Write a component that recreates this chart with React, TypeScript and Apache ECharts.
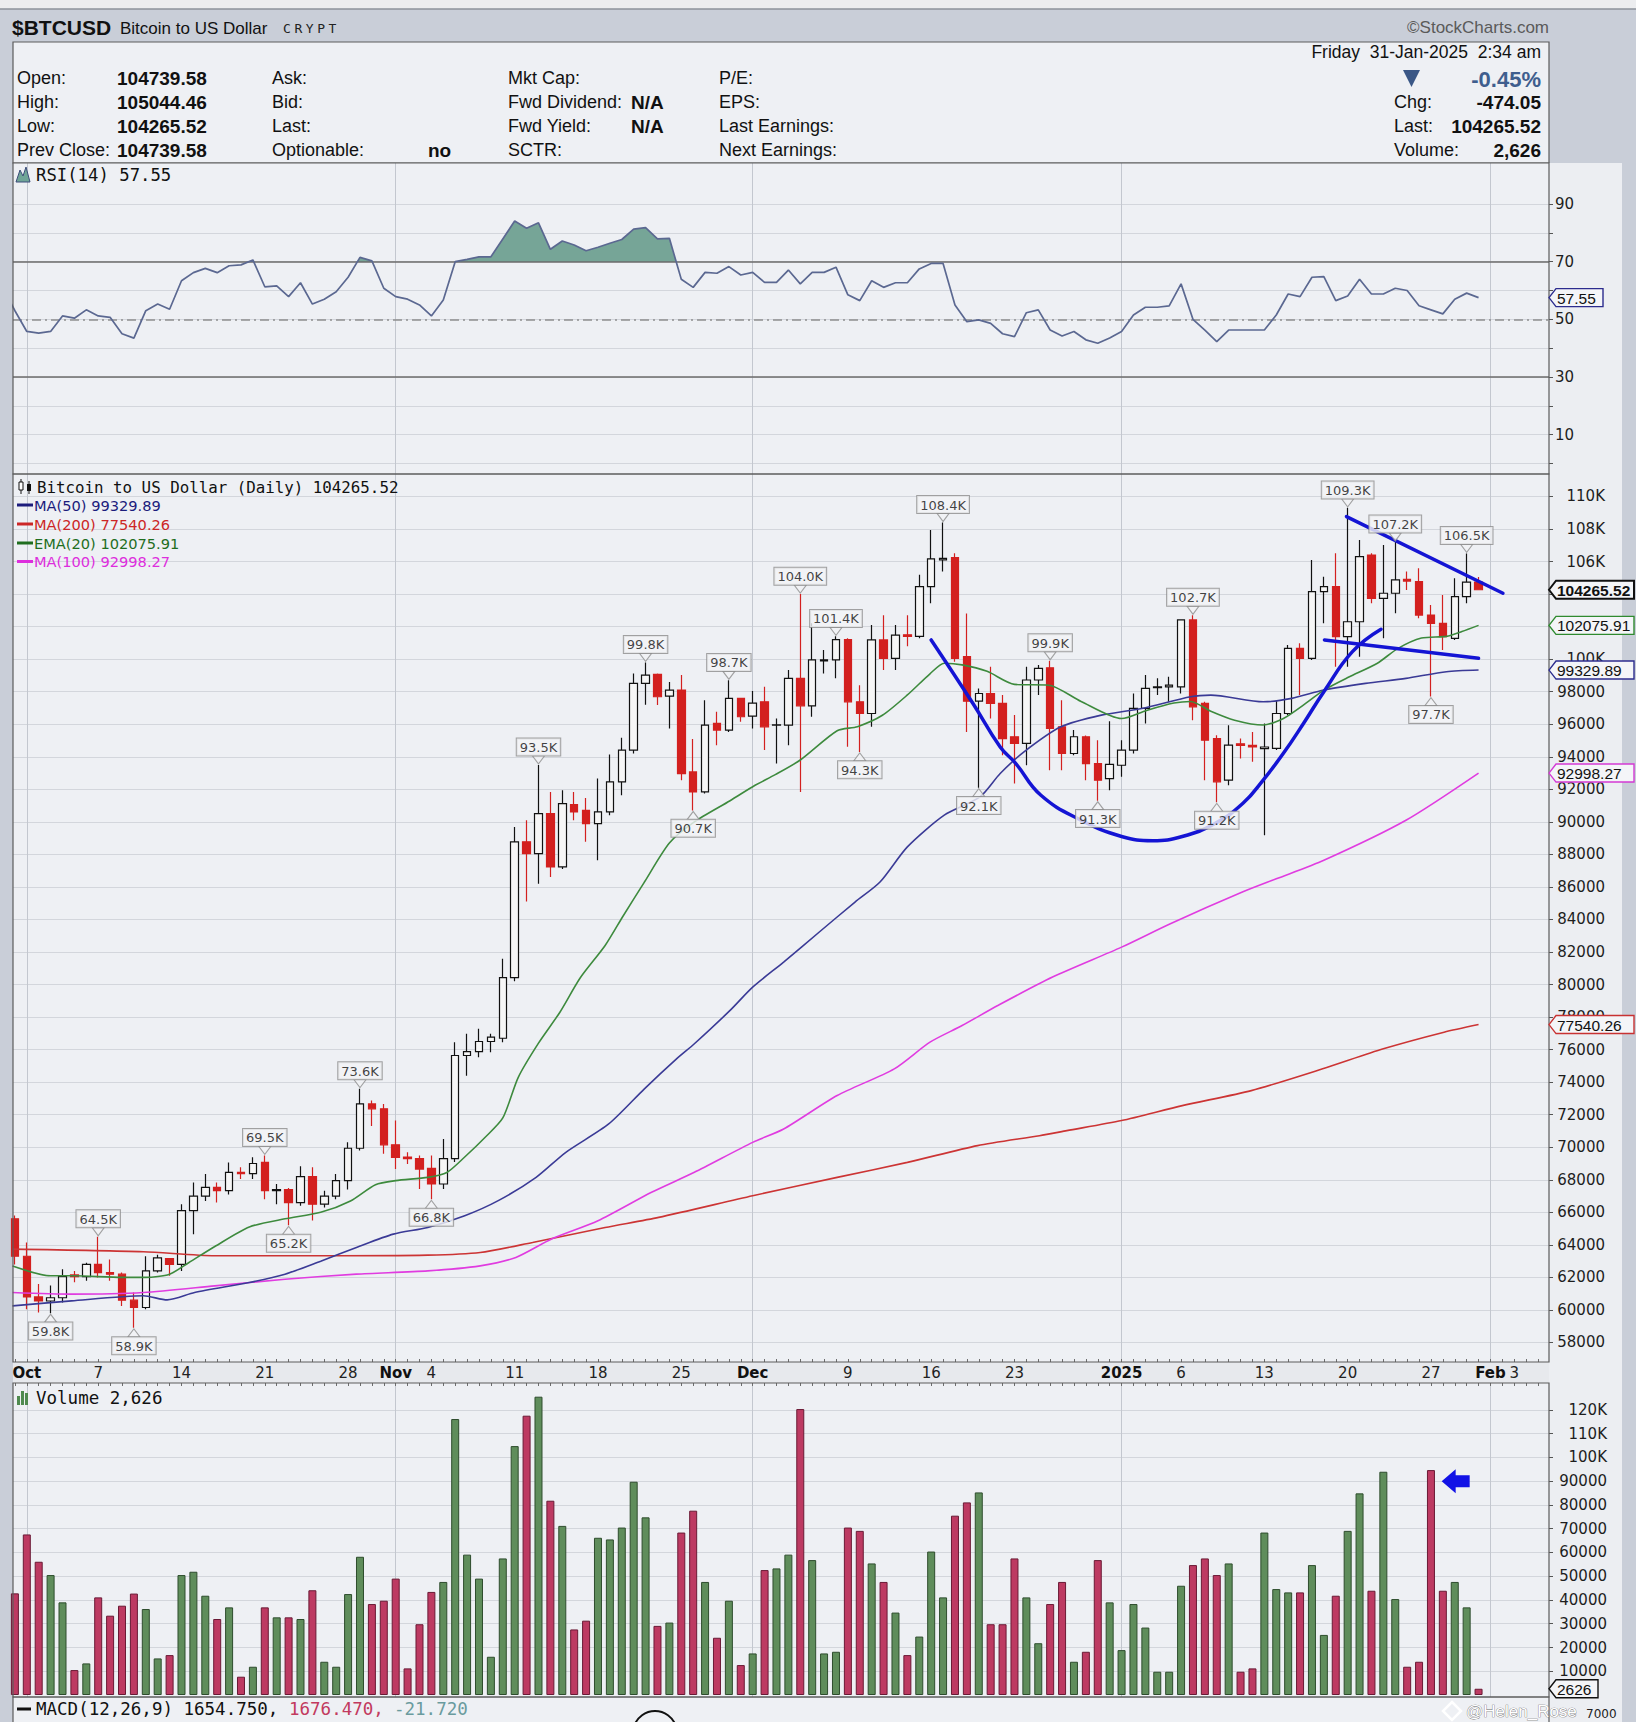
import React, { useEffect, useRef } from 'react';
import * as echarts from 'echarts';

// ---------------- DATA (day index: 0 = 1 Oct 2024) ----------------
const FIRST_DAY = -1; // first candle / volume bar = 30 Sep 2024

// [open, close, low, high]
const ohlc: number[][] = [
  [65600, 63300, 62800, 65800],
  [63300, 60800, 60050, 64150],
  [60800, 60550, 59850, 61600],
  [60550, 60750, 59800, 61500],
  [60750, 62050, 60460, 62500],
  [62150, 62050, 61700, 62400],
  [62050, 62800, 61800, 62900],
  [62800, 62300, 62000, 64500],
  [62300, 62200, 61800, 63100],
  [62200, 60600, 60250, 62300],
  [60600, 60150, 58900, 61070],
  [60150, 62400, 60050, 63300],
  [62400, 63200, 62300, 63400],
  [63150, 62800, 62100, 63200],
  [62800, 66100, 62400, 66500],
  [66100, 67000, 64660, 67840],
  [67000, 67540, 66700, 68350],
  [67540, 67330, 66600, 67840],
  [67330, 68460, 67100, 69070],
  [68460, 68380, 68050, 68770],
  [68380, 69000, 68050, 69380],
  [69070, 67330, 66800, 69500],
  [67330, 67400, 66500, 67740],
  [67400, 66600, 65200, 67500],
  [66600, 68200, 66400, 68830],
  [68200, 66500, 65500, 68770],
  [66500, 67000, 66300, 67330],
  [67000, 67950, 66800, 68350],
  [67950, 69940, 67400, 70300],
  [69940, 72660, 69800, 73600],
  [72660, 72360, 71300, 72870],
  [72360, 70150, 69600, 72660],
  [70150, 69380, 68660, 71640],
  [69400, 69300, 68970, 69690],
  [69300, 68660, 67430, 69500],
  [68700, 67740, 66800, 69500],
  [67740, 69300, 67430, 70500],
  [69300, 75640, 69100, 76460],
  [75640, 75880, 74400, 76970],
  [75880, 76500, 75530, 77280],
  [76500, 76770, 75840, 76970],
  [76700, 80420, 76460, 81590],
  [80420, 88770, 80200, 89690],
  [88770, 88050, 85100, 90100],
  [88050, 90510, 86200, 93500],
  [90510, 87230, 86610, 91840],
  [87230, 91120, 87100, 91950],
  [91060, 90610, 90100, 91840],
  [90710, 89890, 88770, 91470],
  [89890, 90610, 87640, 92660],
  [90610, 92460, 90410, 94140],
  [92460, 94410, 91640, 95170],
  [94410, 98510, 94200, 99120],
  [98510, 99020, 97200, 99800],
  [99060, 97690, 97180, 99120],
  [97730, 98100, 95740, 98600],
  [98100, 92970, 92560, 99020],
  [93070, 91840, 90700, 95100],
  [91840, 95940, 91740, 97480],
  [96050, 95640, 94710, 96760],
  [95640, 97590, 95530, 98700],
  [97590, 96460, 96150, 97590],
  [96500, 97300, 95740, 98040],
  [97380, 95840, 94410, 98300],
  [95940, 95960, 93580, 96350],
  [95940, 98820, 94710, 99330],
  [98820, 97130, 91840, 104000],
  [97130, 99950, 96460, 102200],
  [99900, 99950, 99120, 100560],
  [99950, 101200, 98820, 101400],
  [101200, 97380, 94610, 101280],
  [97380, 96660, 94300, 98400],
  [96660, 101180, 95840, 102100],
  [101180, 100050, 99330, 102700],
  [100050, 101480, 99330, 102100],
  [101500, 101400, 100800, 102700],
  [101400, 104460, 101280, 105180],
  [104460, 106160, 103430, 107940],
  [106100, 106200, 105380, 108400],
  [106240, 100050, 99840, 106510],
  [100150, 97420, 95530, 102800],
  [97420, 97890, 92100, 98200],
  [97890, 97280, 96350, 99540],
  [97280, 95120, 94100, 97790],
  [95230, 94820, 92350, 96560],
  [94820, 98720, 93480, 99540],
  [98720, 99430, 97790, 99640],
  [99470, 95740, 93170, 99900],
  [95840, 94200, 93170, 97480],
  [94200, 95230, 94100, 95640],
  [95230, 93580, 92560, 95300],
  [93580, 92560, 91300, 95020],
  [92660, 93530, 91940, 96190],
  [93480, 94410, 92770, 95020],
  [94410, 96970, 94200, 97890],
  [96970, 98200, 96050, 99020],
  [98250, 98300, 97790, 98820],
  [98300, 98400, 97380, 98920],
  [98300, 102410, 97890, 102450],
  [102410, 97070, 96250, 102700],
  [97280, 95020, 92560, 97380],
  [95120, 92460, 91200, 95330],
  [92560, 94710, 92250, 95940],
  [94800, 94700, 93890, 95120],
  [94700, 94600, 93690, 95530],
  [94500, 94600, 89180, 96050],
  [94510, 96660, 94410, 97480],
  [96660, 100660, 96560, 100870],
  [100660, 100050, 97790, 100970],
  [100050, 104150, 99950, 106100],
  [104150, 104460, 102200, 105070],
  [104460, 101380, 99540, 106510],
  [101380, 102300, 99540, 109300],
  [102300, 106300, 100150, 107330],
  [106400, 103740, 103430, 106510],
  [103740, 104050, 101280, 107020],
  [104050, 104870, 102820, 107200],
  [104900, 104800, 104250, 105380],
  [104770, 102710, 102510, 105590],
  [102710, 102200, 97700, 103330],
  [102200, 101380, 100560, 103940],
  [101280, 103840, 101180, 104970],
  [103840, 104740, 103430, 106500],
  [104739.58, 104265.52, 104265.52, 105044.46],
];

const volumes: number[] = [
  42800, 67600, 56100, 50500, 39000, 10500, 13300, 41100, 33400, 37600, 42700, 36200, 15400, 16800,
  50500, 51900, 41800, 32000, 36900, 7700, 11900, 36900, 32700, 32700, 32000, 44100, 14000, 11900,
  42500, 58200, 38300, 39700, 49000, 11200, 29800, 43400, 47600, 116200, 59100, 49000, 16100, 57500,
  104800, 117600, 125600, 81800, 71200, 27600, 31300, 66200, 65500, 70500, 89800, 74800, 29100, 30500,
  68400, 77600, 47600, 24100, 39700, 12600, 17500, 52600, 53300, 59100, 120400, 56800, 17500, 18200,
  70500, 69100, 55400, 47600, 34700, 16800, 24600, 60400, 41100, 75500, 81100, 85300, 29800, 29800,
  57500, 41100, 21800, 38300, 47600, 14000, 18200, 56800, 39000, 18900, 38300, 28400, 9800, 9800,
  46000, 54700, 57500, 50500, 55400, 9800, 11200, 68400, 44600, 43200, 43200, 54700, 25300, 41800,
  69100, 84900, 43900, 94000, 40400, 11900, 14000, 94700, 43900, 47600, 36900, 2626,
];
// 1 = down (red) bar, 0 = up (green) bar
const volumeDown: number[] = [
  1, 1, 1, 0, 0, 1, 0, 1, 1, 1, 1, 0, 0, 1,
  0, 0, 0, 1, 0, 1, 0, 1, 0, 1, 0, 1, 0, 0,
  0, 0, 1, 1, 1, 1, 1, 1, 0, 0, 0, 0, 0, 0,
  0, 1, 0, 1, 0, 1, 1, 0, 0, 0, 0, 0, 1, 0,
  1, 1, 0, 1, 0, 1, 0, 1, 0, 0, 1, 0, 0, 0,
  1, 1, 0, 1, 0, 1, 0, 0, 0, 1, 1, 0, 1, 1,
  1, 0, 0, 1, 1, 0, 1, 1, 0, 0, 0, 0, 0, 0,
  0, 1, 1, 1, 0, 1, 1, 0, 0, 0, 1, 0, 0, 1,
  0, 0, 1, 0, 0, 1, 1, 1, 1, 0, 0, 1,
];

const RSI_FIRST_DAY = -2;
const rsi: number[] = [
  61, 53, 45.8, 45.2, 45.8, 51.2, 50.4, 53.3, 51.2, 50.7, 45.0, 43.5, 53.0, 55.3, 53.5,
  63.4, 66.2, 67.7, 66.2, 68.6, 68.9, 70.6, 61.3, 61.6, 57.9, 62.7, 55.3, 57.0, 59.6, 64.6,
  71.5, 70.3, 60.8, 57.9, 57.0, 55.0, 51.2, 56.7, 70.0, 70.8, 71.7, 71.7, 77.9, 84.1, 81.6,
  83.5, 74.3, 77.2, 75.8, 73.8, 75.0, 76.4, 77.7, 81.3, 81.8, 77.9, 78.1, 63.9, 61.1, 66.3,
  66.0, 68.3, 65.4, 66.3, 62.8, 62.8, 67.1, 62.3, 66.3, 66.3, 68.1, 58.5, 56.5, 63.4, 61.1,
  62.7, 62.7, 67.5, 69.4, 69.4, 55.0, 49.2, 49.8, 48.6, 45.0, 44.0, 52.3, 53.3, 46.3, 44.2,
  45.8, 42.9, 41.7, 43.5, 45.8, 51.5, 54.2, 54.2, 54.7, 62.3, 50.0, 46.3, 42.3, 46.3, 46.3,
  46.3, 46.3, 51.5, 58.8, 57.9, 64.6, 64.8, 56.5, 58.1, 63.9, 58.8, 58.8, 60.8, 60.0, 54.7,
  53.3, 51.9, 57.0, 59.1, 57.55,
];

// moving averages: [day, value]
const ema20: number[][] = [
  [-1.2, 62700], [2, 62100], [4, 62100], [8, 62000], [10, 62000], [12, 62200], [13.6, 62900],
  [15.8, 63900], [18.7, 65100], [21.7, 65600], [24.7, 66000], [27.2, 66700], [29.3, 67700],
  [31, 67950], [33.7, 68150], [35.3, 68450], [36.8, 69400], [38.5, 70600], [40, 71800],
  [41.3, 74300], [43, 76400], [44.8, 78300], [46.5, 80400], [48.6, 82400], [50.1, 84200],
  [51.9, 86300], [54, 88700], [56.1, 90000], [59.1, 91300], [61.2, 92250], [62.9, 92900],
  [65, 93800], [68.1, 95600], [69.8, 95850], [71.9, 96550], [74, 97800], [75.9, 99100],
  [77.1, 99750], [78.6, 99650], [80.7, 99250], [83, 98450], [85.9, 98400], [88.6, 97400],
  [92, 96350], [94.1, 96850], [96.4, 97300], [97.8, 97400], [99.5, 96800], [101.5, 96250],
  [103.9, 95950], [105.6, 96350], [107.7, 97400], [109, 98100], [111.1, 98900], [113.5, 99750],
  [115.2, 100650], [117.2, 101300], [119.3, 101400], [120.6, 101700], [122, 102076],
];
const ma50: number[][] = [
  [-1.2, 60250], [3.75, 60560], [9.8, 60870], [11.8, 60620], [14.1, 61070], [18.7, 61690],
  [21.7, 62200], [24.7, 63000], [27.7, 63840], [30.8, 64660], [33.7, 65070], [36.8, 65790],
  [39.7, 66750], [42.8, 68150], [45.3, 69690], [48.9, 71430], [51.9, 73590], [54.6, 75430],
  [56.1, 76360], [59.1, 78410], [61, 79840], [63.6, 81380], [66.6, 83230], [69.6, 85070],
  [71.7, 86300], [74, 88460], [77.1, 90410], [80.1, 91530], [81.8, 92970], [83.8, 94300],
  [86.9, 95840], [90.3, 96560], [93.7, 96970], [97.8, 97690], [99.5, 97790], [103.9, 97380],
  [106.3, 97590], [109, 98100], [112.5, 98510], [115.9, 98820], [119.3, 99230], [122, 99330],
];
const ma100: number[][] = [
  [-1.2, 61070], [3.75, 60970], [9.8, 61070], [15.8, 61480], [21.7, 61890], [27.7, 62200],
  [33.7, 62400], [38.1, 62710], [41.1, 63230], [44.1, 64360], [48, 65480], [52.5, 67230],
  [56.1, 68460], [61, 70300], [63.6, 71120], [68.1, 73180], [72.9, 74820], [75.9, 76460],
  [78.6, 77480], [81.6, 78710], [86.2, 80460], [92, 82300], [96.1, 83740], [102.2, 85700],
  [105, 86500], [109, 87640], [115.9, 90100], [122, 92998],
];
const ma200: number[][] = [
  [-1.2, 63740], [9.8, 63580], [15.8, 63330], [24.7, 63330], [33.7, 63370], [38.1, 63530],
  [42.5, 64150], [48.6, 65070], [53.1, 65690], [61, 67020], [68.1, 68150], [74, 69070],
  [79.9, 70100], [85.1, 70710], [87.4, 71020], [92, 71640], [97.1, 72560], [102.9, 73480],
  [108.9, 74820], [114, 76050], [119.1, 77070], [122, 77540],
];

// annotated highs / lows [day, price]
const highMarks: number[][] = [
  [6, 64500], [20, 69500], [28, 73600], [43, 93500], [52, 99800], [59, 98700], [65, 104000],
  [68, 101400], [77, 108400], [86, 99900], [98, 102700], [111, 109300], [115, 107200], [121, 106500],
];
const lowMarks: number[][] = [
  [2, 59800], [9, 58900], [22, 65200], [34, 66800], [56, 90700], [70, 94300], [80, 92100],
  [90, 91300], [100, 91200], [118, 97700],
];

// hand-drawn blue pattern lines [day, price]
const cupCurve: number[][] = [
  [76.0, 101180], [79.5, 97290], [81.8, 94600], [83.1, 93600], [85.2, 91650], [88.6, 90100],
  [92, 89100], [94.6, 88840], [97.1, 89100], [99.85, 89900], [102.2, 91140], [103.9, 92570],
  [105.6, 94210], [107.3, 96060], [109, 98000], [111.4, 100460], [113.8, 101840],
];
const upperTrend: number[][] = [[110.9, 108760], [124.05, 104050]];
const lowerTrend: number[][] = [[109.05, 101180], [122, 100050]];

// axes
const monthDays = [0, 31, 61, 92, 123];
const dateLabelDays = [0, 6, 13, 20, 27, 31, 34, 41, 48, 55, 61, 69, 76, 83, 92, 97, 104, 111, 118, 123, 125];
const dateLabelTexts = ['Oct', '7', '14', '21', '28', 'Nov', '4', '11', '18', '25', 'Dec', '9', '16', '23', '2025', '6', '13', '20', '27', 'Feb', '3'];
const boldDateLabels = ['Oct', 'Nov', 'Dec', '2025', 'Feb'];
const priceTicks = [58000, 60000, 62000, 64000, 66000, 68000, 70000, 72000, 74000, 76000, 78000, 80000, 82000, 84000,
  86000, 88000, 90000, 92000, 94000, 96000, 98000, 100000, 102000, 104000, 106000, 108000, 110000];
// labels hidden behind the value tags (102K, 104K) are left out
const priceLabelTicks = [58000, 60000, 62000, 64000, 66000, 68000, 70000, 72000, 74000, 76000, 78000, 80000, 82000, 84000,
  86000, 88000, 90000, 92000, 94000, 96000, 98000, 100000, 106000, 108000, 110000];
const rsiTicks = [0, 10, 20, 30, 40, 50, 60, 70, 80, 90];
const rsiLabelTicks = [10, 30, 50, 70, 90];
const volumeTicks = [10000, 20000, 30000, 40000, 50000, 60000, 70000, 80000, 90000, 100000, 110000, 120000];

const priceTags = [
  { value: 104265.52, text: '104265.52', color: '#111111', bold: true },
  { value: 102075.91, text: '102075.91', color: '#2f8a2f', bold: false },
  { value: 99329.89, text: '99329.89', color: '#2c2c8e', bold: false },
  { value: 92998.27, text: '92998.27', color: '#d33ad3', bold: false },
  { value: 77540.26, text: '77540.26', color: '#c83232', bold: false },
];

// ---------------- LAYOUT ----------------
const X_MIN = -1.16;
const X_MAX = 127.92;
const PL = 13;
const PW = 1536;
const allDays = Array.from({ length: 129 }, (_, i) => i - 1);

const F_MONO = '"DejaVu Sans Mono", monospace';
const F_SANS = '"DejaVu Sans", sans-serif';
const F_ARIAL = '"Liberation Sans", Arial, sans-serif';

function xBase(gridIndex: number) {
  return {
    type: 'value', gridIndex, min: X_MIN, max: X_MAX,
    axisLine: { show: false, onZero: false },
    axisTick: { show: false, customValues: monthDays },
    axisLabel: { show: false },
    splitLine: { show: true, lineStyle: { color: '#c3c7cf', width: 1 } },
  };
}
function xTicks(gridIndex: number, position: string) {
  return {
    type: 'value', gridIndex, min: X_MIN, max: X_MAX, position,
    axisLine: { show: false, onZero: false },
    axisTick: { show: true, inside: true, length: 3, customValues: allDays, lineStyle: { color: '#6d6d6d' } },
    axisLabel: { show: false },
    splitLine: { show: false },
  };
}

function buildOption() {
  const rsiPts = rsi.map((v, i) => [i + RSI_FIRST_DAY, v]);
  const candleData = ohlc.map((c, i) => [i + FIRST_DAY, c[0], c[1], c[2], c[3]]);
  const volData = volumes.map((v, i) => ({
    value: [i + FIRST_DAY, v],
    itemStyle: volumeDown[i]
      ? { color: '#bd3a62', borderColor: '#6a1a35', borderWidth: 1 }
      : { color: '#5f8d5b', borderColor: '#2e4d2d', borderWidth: 1 },
  }));
  const kFmt = (v: number) => (v >= 100000 ? `${Math.round(v / 1000)}K` : String(v));
  const axisText = { color: '#1e1e1e', fontFamily: 'DejaVu Sans', fontSize: 15 };
  const maLine = (data: number[][], color: string) => ({
    type: 'line', xAxisIndex: 1, yAxisIndex: 1, data, symbol: 'none', smooth: 0.25, silent: true, z: 3,
    lineStyle: { color, width: 1.6 },
  });
  const blueLine = (data: number[][], smooth: number) => ({
    type: 'line', xAxisIndex: 1, yAxisIndex: 1, data, symbol: 'none', smooth, silent: true, z: 5,
    lineStyle: { color: '#1414d4', width: 3.5, cap: 'round' },
  });
  const callout = (data: number[][], isHigh: boolean) => ({
    type: 'scatter', xAxisIndex: 1, yAxisIndex: 1, data, z: 6, silent: true,
    symbol: isHigh ? 'path://M0,0L12,0L6,8Z' : 'path://M6,0L12,8L0,8Z',
    symbolSize: [12, 8],
    symbolOffset: [0, isHigh ? -5 : 5],
    itemStyle: { color: '#f1f2f5', borderColor: '#8c8c8c', borderWidth: 1 },
    label: {
      show: true, position: isHigh ? 'top' : 'bottom', distance: 0,
      formatter: (p: any) => `${(p.value[1] / 1000).toFixed(1)}K`,
      backgroundColor: '#f3f4f6', borderColor: '#8c8c8c', borderWidth: 1,
      padding: [2, 3, 1, 3], lineHeight: 14,
      fontFamily: 'DejaVu Sans', fontSize: 13, color: '#111',
    },
  });

  return {
    animation: false,
    backgroundColor: '#c9ced8',
    grid: [
      { left: PL, top: 163, width: PW, height: 311, show: true, backgroundColor: '#eef0f4', borderWidth: 0 },
      { left: PL, top: 474, width: PW, height: 888, show: true, backgroundColor: '#eef0f4', borderWidth: 0 },
      { left: PL, top: 1383, width: PW, height: 314, show: true, backgroundColor: '#eef0f4', borderWidth: 0 },
    ],
    xAxis: [
      xBase(0),
      {
        ...xBase(1),
        axisLabel: {
          show: true, customValues: dateLabelDays, margin: 3, ...axisText,
          formatter: (v: number) => {
            const t = dateLabelTexts[dateLabelDays.indexOf(Math.round(v))] || '';
            return boldDateLabels.includes(t) ? `{b|${t}}` : `{n|${t}}`;
          },
          rich: {
            b: { fontWeight: 'bold', fontFamily: 'DejaVu Sans', fontSize: 15, color: '#111' },
            n: { fontFamily: 'DejaVu Sans', fontSize: 15, color: '#222' },
          },
        },
      },
      xTicks(1, 'bottom'),
      xBase(2),
      xTicks(2, 'top'),
    ],
    yAxis: [
      {
        type: 'value', gridIndex: 0, position: 'right', min: -3.65, max: 104.24,
        axisLine: { show: false, onZero: false },
        axisTick: { show: true, length: 4, customValues: rsiTicks, lineStyle: { color: '#555' } },
        splitLine: { show: true, lineStyle: { color: '#d3d6dc' } },
        axisLabel: { customValues: rsiLabelTicks, margin: 6, ...axisText },
      },
      {
        type: 'value', gridIndex: 1, position: 'right', min: 56801, max: 111380,
        axisLine: { show: false, onZero: false },
        axisTick: { show: true, length: 4, customValues: priceTicks, lineStyle: { color: '#555' } },
        splitLine: { show: true, lineStyle: { color: '#d3d6dc' } },
        axisLabel: { customValues: priceLabelTicks, margin: 56, align: 'right', formatter: kFmt, ...axisText },
      },
      {
        type: 'value', gridIndex: 2, position: 'right', min: -842, max: 131368,
        axisLine: { show: false, onZero: false },
        axisTick: { show: true, length: 4, customValues: volumeTicks, lineStyle: { color: '#555' } },
        splitLine: { show: true, lineStyle: { color: '#d3d6dc' } },
        axisLabel: { customValues: volumeTicks, margin: 58, align: 'right', formatter: kFmt, ...axisText },
      },
    ],
    visualMap: [{
      type: 'piecewise', show: false, seriesIndex: 0, dimension: 1,
      pieces: [
        { gt: -200, lte: 70, color: 'rgba(238,240,244,0)' },
        { gt: 70, lte: 300, color: '#76a597' },
      ],
    }],
    series: [
      {
        type: 'line', xAxisIndex: 0, yAxisIndex: 0, data: rsiPts, symbol: 'none', silent: true, z: 1,
        lineStyle: { width: 0 }, areaStyle: { opacity: 1, origin: 'start' },
      },
      {
        type: 'line', xAxisIndex: 0, yAxisIndex: 0, data: rsiPts, symbol: 'none', silent: true, z: 3,
        lineStyle: { color: '#5b6891', width: 1.7 },
        markLine: {
          silent: true, symbol: ['none', 'none'], label: { show: false }, z: 2,
          data: [
            { yAxis: 70, lineStyle: { color: '#6b6b6b', width: 1.5, type: 'solid' } },
            { yAxis: 30, lineStyle: { color: '#6b6b6b', width: 1.5, type: 'solid' } },
            { yAxis: 50, lineStyle: { color: '#8e8e8e', width: 1.5, type: [9, 4, 2, 4] } },
          ],
        },
      },
      {
        type: 'candlestick', xAxisIndex: 1, yAxisIndex: 1, data: candleData, barWidth: 8, z: 2, silent: true,
        encode: { x: 0, y: [1, 2, 3, 4] },
        itemStyle: { color: '#f6f6f6', color0: '#d3201f', borderColor: '#111', borderColor0: '#d3201f', borderWidth: 1.2 },
      },
      maLine(ma200, '#cc3434'),
      maLine(ma100, '#e03ce0'),
      maLine(ma50, '#3a3a96'),
      maLine(ema20, '#3d8a3d'),
      blueLine(cupCurve, 0.45),
      blueLine(upperTrend, 0),
      blueLine(lowerTrend, 0),
      callout(highMarks, true),
      callout(lowMarks, false),
      { type: 'bar', xAxisIndex: 3, yAxisIndex: 2, data: volData, barWidth: 8, silent: true },
    ],
  };
}

// ---------------- GRAPHICS (header, frames, tags) ----------------
function txt(x: number, y: number, text: string, font: string, fill = '#111', align = 'left', z = 60) {
  return {
    type: 'text', x, y, z, silent: true,
    style: { text, font, fill, textAlign: align, align, textVerticalAlign: 'middle', verticalAlign: 'middle' },
  };
}
function rect(x: number, y: number, w: number, h: number, style: any, z = -5) {
  return { type: 'rect', z, silent: true, shape: { x, y, width: w, height: h }, style };
}
function line(x1: number, y1: number, x2: number, y2: number, stroke: string, lineWidth: number, z = 60) {
  return { type: 'line', z, silent: true, shape: { x1, y1, x2, y2 }, style: { stroke, lineWidth } };
}
function tag(x0: number, yc: number, x1: number, color: string, text: string, bold: boolean) {
  return [
    {
      type: 'polygon', z: 70, silent: true,
      shape: { points: [[x0, yc], [x0 + 7, yc - 9], [x1, yc - 9], [x1, yc + 9], [x0 + 7, yc + 9]] },
      style: { fill: '#f4f5f8', stroke: color, lineWidth: bold ? 2 : 1.4 },
    },
    txt(x0 + 8, yc + 0.5, text, `${bold ? 'bold ' : ''}15.5px ${F_ARIAL}`, '#111', 'left', 71),
  ];
}

function buildGraphics(chart: any) {
  const g: any[] = [];
  const A = (s: number) => `${s}px ${F_ARIAL}`;
  const AB = (s: number) => `bold ${s}px ${F_ARIAL}`;

  // backgrounds
  g.push(rect(0, 0, 1636, 9, { fill: '#ecedef' }));
  g.push(line(0, 9, 1636, 9, '#8d929b', 1.5, -4));
  g.push(rect(PL, 42, PW, 121, { fill: '#eef0f4', stroke: '#5c5c5c', lineWidth: 1.2 }));
  g.push(rect(1549, 163, 73, 1559, { fill: '#eceef2' }));
  g.push(rect(PL, 1362, PW, 21, { fill: '#e7e9ed' }));
  g.push(rect(PL, 1697, PW, 30, { fill: '#eef0f4' }));

  // frames
  const frame = { fill: 'none', stroke: '#5c5c5c', lineWidth: 1.2 };
  g.push(rect(PL, 163, PW, 311, frame, 50));
  g.push(rect(PL, 474, PW, 888, frame, 50));
  g.push(rect(PL, 1383, PW, 314, frame, 50));
  g.push(rect(PL, 1697, PW, 40, frame, 50));

  // title bar
  g.push(txt(12, 27, '$BTCUSD', AB(21)));
  g.push(txt(120, 28, 'Bitcoin to US Dollar', A(17)));
  'CRYPT'.split('').forEach((ch, i) => g.push(txt(283 + i * 11.4, 28, ch, `13px ${F_MONO}`, '#222')));
  g.push(txt(1549, 27, '©StockCharts.com', A(17), '#5a5a5a', 'right'));

  // info box
  const rows = [78, 102, 126, 150];
  ['Open:', 'High:', 'Low:', 'Prev Close:'].forEach((t, i) => g.push(txt(17, rows[i], t, A(18))));
  ['104739.58', '105044.46', '104265.52', '104739.58'].forEach((t, i) => g.push(txt(117, rows[i], t, AB(19))));
  ['Ask:', 'Bid:', 'Last:', 'Optionable:'].forEach((t, i) => g.push(txt(272, rows[i], t, A(18))));
  g.push(txt(428, rows[3], 'no', AB(19)));
  ['Mkt Cap:', 'Fwd Dividend:', 'Fwd Yield:', 'SCTR:'].forEach((t, i) => g.push(txt(508, rows[i], t, A(18))));
  g.push(txt(631, rows[1], 'N/A', AB(19)));
  g.push(txt(631, rows[2], 'N/A', AB(19)));
  ['P/E:', 'EPS:', 'Last Earnings:', 'Next Earnings:'].forEach((t, i) => g.push(txt(719, rows[i], t, A(18))));
  g.push(txt(1541, 52, 'Friday  31-Jan-2025  2:34 am', A(17.5), '#111', 'right'));
  g.push({ type: 'polygon', z: 60, silent: true, shape: { points: [[1403, 70], [1420, 70], [1411.5, 87]] }, style: { fill: '#3a5786' } });
  g.push(txt(1541, 79, '-0.45%', AB(22), '#3f5e8e', 'right'));
  ['Chg:', 'Last:', 'Volume:'].forEach((t, i) => g.push(txt(1394, rows[i + 1], t, A(18))));
  ['-474.05', '104265.52', '2,626'].forEach((t, i) => g.push(txt(1541, rows[i + 1], t, AB(19), '#111', 'right')));

  // panel legends
  g.push({ type: 'polygon', z: 60, silent: true, shape: { points: [[16, 182], [20, 170], [23, 176], [26, 167], [30, 182]] }, style: { fill: '#6fa597', stroke: '#3d4d7a', lineWidth: 1 } });
  g.push(txt(36, 175, 'RSI(14) 57.55', `17.3px ${F_MONO}`));

  g.push(line(21, 479, 21, 494, '#111', 1));
  g.push(rect(19, 482, 4, 8, { fill: '#fff', stroke: '#111', lineWidth: 1 }, 61));
  g.push(line(29, 481, 29, 494, '#111', 1));
  g.push(rect(27, 484, 4, 7, { fill: '#111' }, 61));
  g.push(txt(37, 487, 'Bitcoin to US Dollar (Daily) 104265.52', `15.8px ${F_MONO}`));
  const legendRows = [
    { y: 505, text: 'MA(50) 99329.89', color: '#1c1c7c' },
    { y: 524, text: 'MA(200) 77540.26', color: '#cc2626' },
    { y: 543, text: 'EMA(20) 102075.91', color: '#1f6e1f' },
    { y: 561.5, text: 'MA(100) 92998.27', color: '#dd2edd' },
  ];
  legendRows.forEach((r) => {
    g.push(line(17, r.y, 33, r.y, r.color, 3));
    g.push(txt(34, r.y, r.text, `14.6px ${F_SANS}`, r.color));
  });

  g.push(rect(17, 1396, 3, 9, { fill: '#4f8a4f' }, 61));
  g.push(rect(21, 1391, 3, 14, { fill: '#4f8a4f' }, 61));
  g.push(rect(25, 1393, 3, 12, { fill: '#4f8a4f' }, 61));
  g.push(txt(36, 1398, 'Volume 2,626', `17.5px ${F_MONO}`));

  g.push(line(17, 1709, 31, 1709, '#111', 3));
  g.push(txt(36, 1709, 'MACD(12,26,9) 1654.750, ', `17.5px ${F_MONO}`, '#111'));
  g.push(txt(289, 1709, '1676.470, ', `17.5px ${F_MONO}`, '#c23a5e'));
  g.push(txt(394, 1709, '-21.720', `17.5px ${F_MONO}`, '#6a9b9e'));
  g.push(txt(1586, 1714, '7000', `12px ${F_SANS}`, '#222'));
  g.push({ type: 'arc', z: 60, silent: true, shape: { cx: 655, cy: 1733, r: 22, startAngle: Math.PI * 1.1, endAngle: Math.PI * 1.9 }, style: { stroke: '#111', lineWidth: 2, fill: 'none' } });

  // right-hand value tags (positions from the chart's own scales)
  const toPx = (xi: number, yi: number, v: number[]) => chart.convertToPixel({ xAxisIndex: xi, yAxisIndex: yi }, v);
  priceTags.forEach((t) => {
    const p = toPx(1, 1, [0, t.value]);
    g.push(...tag(1549, p[1], 1634, t.color, t.text, t.bold));
  });
  const pr = toPx(0, 0, [0, rsi[rsi.length - 1]]);
  g.push(...tag(1549, pr[1], 1603, '#2c2c8e', '57.55', false));
  const pv = toPx(3, 2, [0, volumes[volumes.length - 1]]);
  g.push(...tag(1549, pv[1], 1598, '#111', '2626', false));

  // blue arrow next to the last big volume bar
  const pa = toPx(3, 2, [118.9, 90000]);
  const tx = pa[0];
  const ty = pa[1];
  g.push({
    type: 'polygon', z: 70, silent: true,
    shape: { points: [[tx, ty], [tx + 14, ty - 12], [tx + 14, ty - 6], [tx + 28, ty - 6], [tx + 28, ty + 6], [tx + 14, ty + 6], [tx + 14, ty + 12]] },
    style: { fill: '#1212e6' },
  });

  // watermark
  g.push({ type: 'polygon', z: 90, silent: true, shape: { points: [[1452, 1702], [1461, 1711], [1452, 1720], [1443, 1711]] }, style: { fill: 'none', stroke: '#ffffff', lineWidth: 2.5 } });
  g.push({
    type: 'text', x: 1466, y: 1711, z: 90, silent: true,
    style: { text: '@Helen_Rose', font: `17px ${F_ARIAL}`, fill: '#ffffff', stroke: '#6b6b6b', lineWidth: 0.7, textAlign: 'left', align: 'left', textVerticalAlign: 'middle', verticalAlign: 'middle' },
  });
  return g;
}

export default function App() {
  const ref = useRef<HTMLDivElement>(null);
  useEffect(() => {
    const el = ref.current;
    if (!el) return undefined;
    const chart = echarts.init(el, null, { renderer: 'svg' });
    chart.setOption(buildOption() as any);
    chart.setOption({ graphic: buildGraphics(chart) } as any);
    return () => chart.dispose();
  }, []);
  return <div ref={ref} style={{ position: 'absolute', left: 0, top: 0, width: 1636, height: 1722 }} />;
}
